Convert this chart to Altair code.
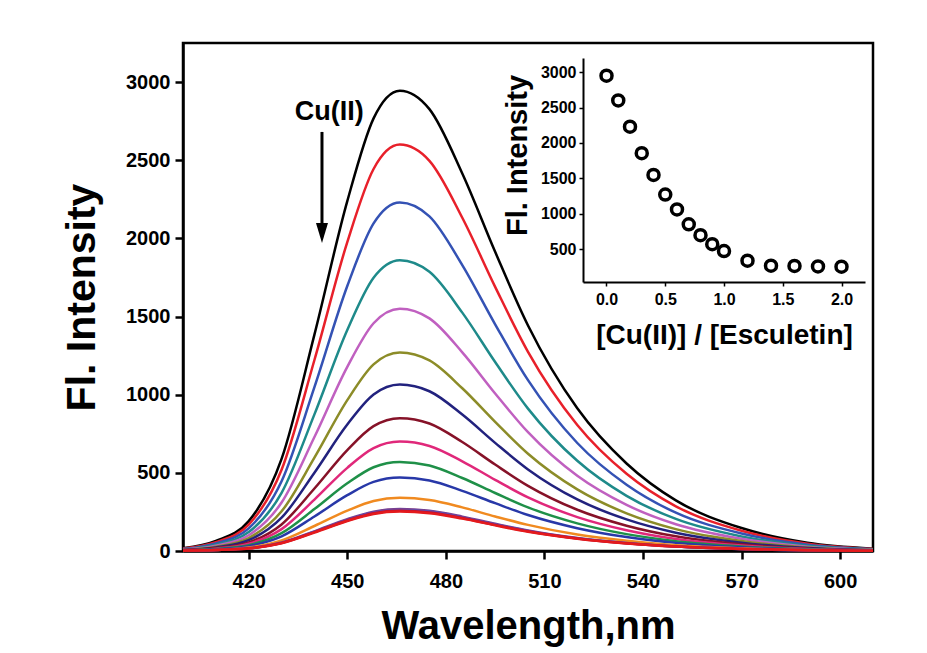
import altair as alt
import pandas as pd

# ---------------- main spectra ----------------
wavelength = [400, 410, 420, 430, 440, 450, 458, 466, 475, 485, 495, 505, 520, 535, 550, 570, 590, 610]

s00 = [18, 65, 191, 589, 1384, 2238, 2768, 2945, 2827, 2415, 1914, 1443, 913, 560, 324, 147, 53, 15]
s01 = [16, 57, 169, 520, 1222, 1976, 2444, 2600, 2496, 2132, 1690, 1274, 806, 494, 286, 130, 47, 13]
s02 = [13, 49, 145, 446, 1048, 1695, 2096, 2230, 2141, 1829, 1450, 1093, 691, 424, 245, 112, 40, 11]
s03 = [11, 41, 121, 372, 874, 1414, 1748, 1860, 1786, 1525, 1209, 911, 577, 353, 205, 93, 33, 9]
s04 = [9, 34, 101, 310, 729, 1178, 1457, 1550, 1488, 1271, 1008, 760, 481, 295, 171, 78, 28, 8]
s05 = [8, 28, 83, 254, 597, 965, 1194, 1270, 1219, 1041, 826, 622, 394, 241, 140, 64, 23, 6]
s06 = [6, 23, 69, 213, 501, 809, 1001, 1065, 1022, 873, 692, 522, 330, 202, 117, 53, 19, 5]
s07 = [5, 19, 55, 170, 400, 646, 799, 850, 816, 697, 553, 417, 264, 162, 94, 43, 15, 4]
s08 = [4, 15, 46, 140, 329, 532, 658, 700, 672, 574, 455, 343, 217, 133, 77, 35, 13, 4]
s09 = [3, 13, 37, 114, 268, 433, 536, 570, 547, 467, 371, 279, 177, 108, 63, 29, 10, 3]
s10 = [3, 10, 31, 94, 221, 357, 442, 470, 451, 385, 306, 230, 146, 89, 52, 24, 8, 2]
s11 = [2, 7, 22, 68, 160, 258, 320, 340, 326, 279, 221, 167, 105, 65, 37, 17, 6, 2]
s12 = [2, 6, 17, 54, 126, 204, 252, 268, 257, 220, 174, 131, 83, 51, 29, 13, 5, 1]
s13 = [2, 6, 17, 52, 123, 199, 246, 262, 252, 215, 170, 128, 81, 50, 29, 13, 5, 1]
s14 = [2, 6, 17, 51, 121, 195, 242, 257, 247, 211, 167, 126, 80, 49, 28, 13, 5, 1]
s15 = [2, 6, 16, 50, 118, 192, 237, 252, 242, 207, 164, 123, 78, 48, 28, 13, 5, 1]

series_values = [s00, s01, s02, s03, s04, s05, s06, s07, s08, s09, s10, s11, s12, s13, s14, s15]
series_names = ["s%02d" % i for i in range(16)]
series_colors = ["#000000", "#E8202A", "#3452B4", "#1E8A8A", "#C060C0", "#8C8C28",
                 "#22227E", "#861228", "#E0287A", "#1F9048", "#2838A8", "#F08A20",
                 "#7B3F8F", "#5B4FB0", "#C8102E", "#E41A1C"]

# ---------------- inset ----------------
ratio = [0.0, 0.1, 0.2, 0.3, 0.4, 0.5, 0.6, 0.7, 0.8, 0.9, 1.0, 1.2, 1.4, 1.6, 1.8, 2.0]
inset_intensity = [2950, 2600, 2230, 1855, 1547, 1271, 1061, 850, 696, 570, 472, 336, 266, 262, 255, 252]

# ---------------- annotation ----------------
arrow_x = 442.3
arrow_y_top = 2681
arrow_y_end = 2080
arrow_head_y = 2035
label_x = 444.5
label_y = 2809
label_text = "Cu(II)"

FONT = "Liberation Sans"

rows = []
for name, vals in zip(series_names, series_values):
    for w, v in zip(wavelength, vals):
        rows.append({"series": name, "wl": w, "I": v})
spec_df = pd.DataFrame(rows)

xscale = alt.Scale(domain=[400, 610], nice=False, zero=False)
yscale = alt.Scale(domain=[0, 3250], nice=False)

x_axis = alt.Axis(values=[420, 450, 480, 510, 540, 570, 600], format="d", title="Wavelength,nm",
                  labelFont=FONT, labelFontSize=20, labelFontWeight="bold", labelColor="black",
                  labelPadding=12, labelOverlap=False,
                  tickColor="black", tickWidth=2.5, tickSize=8,
                  domainColor="black", domainWidth=2.5, grid=False,
                  titleFont=FONT, titleFontSize=40, titleFontWeight="bold", titleColor="black",
                  titlePadding=15)
y_axis = alt.Axis(values=[0, 500, 1000, 1500, 2000, 2500, 3000], format="d", title="Fl. Intensity",
                  labelFont=FONT, labelFontSize=20, labelFontWeight="bold", labelColor="black",
                  labelPadding=5, labelOverlap=False,
                  tickColor="black", tickWidth=2.5, tickSize=8,
                  domainColor="black", domainWidth=2.5, grid=False,
                  titleFont=FONT, titleFontSize=41, titleFontWeight="bold", titleColor="black",
                  titlePadding=22)

lines = alt.Chart(spec_df).mark_line(interpolate="monotone", strokeWidth=2.5).encode(
    x=alt.X("wl:Q", scale=xscale, axis=x_axis),
    y=alt.Y("I:Q", scale=yscale, axis=y_axis),
    color=alt.Color("series:N", scale=alt.Scale(domain=series_names, range=series_colors), legend=None),
)

arrow_df = pd.DataFrame({"wl": [arrow_x], "I": [arrow_y_top], "I2": [arrow_y_end]})
arrow = alt.Chart(arrow_df).mark_rule(color="black", strokeWidth=3).encode(
    x="wl:Q", y="I:Q", y2="I2:Q")

head_df = pd.DataFrame({"wl": [arrow_x], "I": [arrow_head_y]})
head = alt.Chart(head_df).mark_point(shape="M-0.6,-1L0.6,-1L0,1Z", filled=True, color="black",
                                     size=400, opacity=1).encode(x="wl:Q", y="I:Q")

label_df = pd.DataFrame({"wl": [label_x], "I": [label_y], "t": [label_text]})
label = alt.Chart(label_df).mark_text(font=FONT, fontSize=27, fontWeight="bold", color="black",
                                      baseline="middle", align="center").encode(
    x="wl:Q", y="I:Q", text="t:N")

main = alt.layer(lines, arrow, head, label)

inset_df = pd.DataFrame({"ratio": ratio, "fi": inset_intensity})
inset = alt.Chart(inset_df).mark_point(shape="circle", filled=False, color="black",
                                       strokeWidth=3.5, size=121, opacity=1).encode(
    x=alt.X("ratio:Q",
            scale=alt.Scale(domain=[-0.2, 2.2], range=[400, 682], nice=False, zero=False),
            axis=alt.Axis(orient="bottom", offset=-269, values=[0, 0.5, 1.0, 1.5, 2.0], format=".1f",
                          title="[Cu(II)] / [Esculetin]",
                          labelFont=FONT, labelFontSize=16, labelFontWeight="bold", labelColor="black",
                          labelPadding=5, labelOverlap=False, labelFlush=False,
                          tickColor="black", tickWidth=1.5, tickSize=4,
                          domainColor="black", domainWidth=2, grid=False,
                          titleFont=FONT, titleFontSize=28, titleFontWeight="bold", titleColor="black",
                          titlePadding=14)),
    y=alt.Y("fi:Q",
            scale=alt.Scale(domain=[35, 3200], range=[239, 15], nice=False, zero=False),
            axis=alt.Axis(orient="left", offset=-400, values=[500, 1000, 1500, 2000, 2500, 3000],
                          format="d", title="Fl. Intensity",
                          labelFont=FONT, labelFontSize=16, labelFontWeight="bold", labelColor="black",
                          labelPadding=3, labelOverlap=False, labelFlush=False,
                          tickColor="black", tickWidth=1.5, tickSize=4,
                          domainColor="black", domainWidth=2, grid=False,
                          titleFont=FONT, titleFontSize=29, titleFontWeight="bold", titleColor="black",
                          titlePadding=8, titleY=112)),
)

chart = alt.layer(main, inset).resolve_scale(x="independent", y="independent").properties(
    width=690, height=508,
    padding={"left": 183, "top": 43, "right": 54, "bottom": 102},
    autosize=alt.AutoSizeParams(type="none"),
    background="white",
).configure_view(stroke="black", strokeWidth=2.5)

chart.save("out.html", embed_options={"renderer": "svg", "actions": False})
